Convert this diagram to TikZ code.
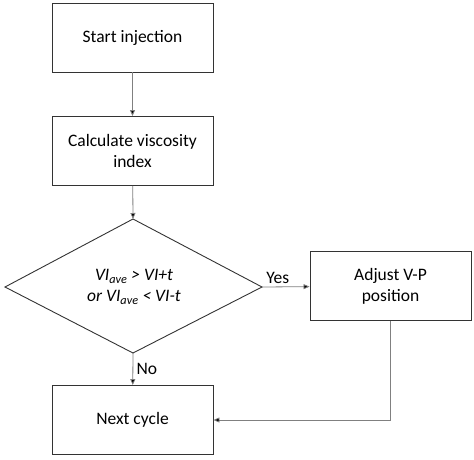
\documentclass[tikz,border=0pt]{standalone}
\usepackage{fontspec}
\setmainfont{Carlito}
\usetikzlibrary{arrows.meta}
\begin{document}
\begin{tikzpicture}[x=1pt,y=-1pt,
  box/.style={draw=black!80,line width=0.9pt,fill=white,minimum width=161pt,minimum height=69pt,inner sep=2pt,align=center,font=\fontsize{17.5}{21}\selectfont},
  conn/.style={draw=black!50,line width=0.8pt,-{Triangle[length=6pt,width=5pt,fill=black]}},
  lbl/.style={font=\fontsize{17.5}{21}\selectfont}]
\useasboundingbox (0,0) rectangle (474,459);
\node[box] (start) at (132.5,37.5) {Start injection};
\node[box] (calc) at (132.5,151) {Calculate viscosity\\index};
\draw[draw=black!80,line width=0.9pt] (5,287) -- (133,219) -- (262,287) -- (133,353) -- cycle;
\coordinate (dt) at (133,219);
\coordinate (db) at (133,353);
\coordinate (dr) at (262,287);
\node[font=\fontsize{17.5}{21}\selectfont\itshape,align=center] (dtext) at (134,287) {VI\textsubscript{ave} > VI+t\\or VI\textsubscript{ave} < VI-t};
\node[box] (adj) at (390.5,286) {Adjust V-P\\position};
\node[box] (next) at (132.5,420) {Next cycle};
\draw[conn] (start) -- (calc);
\draw[conn] (calc) -- (dt);
\draw[conn] (dr) -- (adj) node[lbl,above,pos=0.33] (yes) {Yes};
\draw[conn] (db) -- (next) node[lbl,midway,right] (no) {No};
\draw[conn] (adj.south) |- (next.east);
\end{tikzpicture}
\end{document}
